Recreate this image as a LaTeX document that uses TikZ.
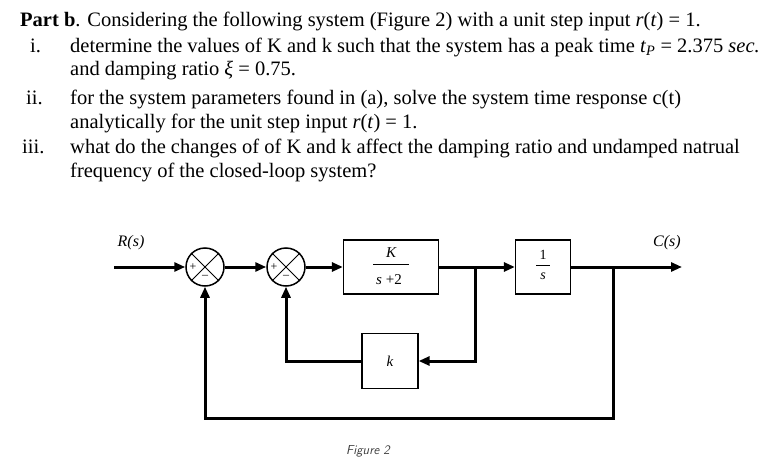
\documentclass[tikz,border=0pt]{standalone}
\usepackage{fontspec}
\setmainfont{Liberation Serif}
\usetikzlibrary{arrows.meta}
\begin{document}
\begin{tikzpicture}[x=1pt,y=-1pt,
  txt/.style={anchor=base west,inner sep=0,font=\fontsize{20.5}{22}\selectfont},
  blk/.style={draw,line width=1.3pt,inner sep=0},
  sig/.style={line width=3pt},
  arr/.style={sig,-{Triangle[length=11pt,width=9pt]}},
  sumc/.style={circle,draw,line width=1.5pt,minimum size=38pt,inner sep=0},
  dlab/.style={font=\fontsize{16}{16}\selectfont\itshape}]
\useasboundingbox (0,0) rectangle (774,471);
% text
\node[txt] (l1) at (20,27) {\textbf{Part b}. Considering the following system (Figure 2) with a unit step input \textit{r}(\textit{t}) = 1.};
\node[txt] (n1) at (30,52) {i.};
\node[txt] (l2) at (70,52) {determine the values of K and k such that the system has a peak time \textit{t}\textsubscript{\textit{P}} = 2.375 \textit{sec.}};
\node[txt] (l3) at (70,75) {and damping ratio \textit{ξ} = 0.75.};
\node[txt] (n2) at (26,104) {ii.};
\node[txt] (l4) at (70,104) {for the system parameters found in (a), solve the system time response c(t)};
\node[txt] (l5) at (70,128) {analytically for the unit step input \textit{r}(\textit{t}) = 1.};
\node[txt] (n3) at (22,153) {iii.};
\node[txt] (l6) at (70,153) {what do the changes of of K and k affect the damping ratio and undamped natrual};
\node[txt] (l7) at (70,177) {frequency of the closed-loop system?};
% diagram
\coordinate (in) at (114,267);
\node[sumc] (s1) at (205,267) {};
\node[sumc] (s2) at (286,267) {};
\foreach \s in {s1,s2}{
  \draw[line width=1pt] (\s.north west) -- (\s.south east) (\s.north east) -- (\s.south west);
  \node[font=\fontsize{12}{12}\selectfont] at ([xshift=-12pt]\s.center) {+};
  \node[font=\fontsize{12}{12}\selectfont] at ([yshift=-10pt]\s.center) {–};
}
\node[blk,minimum width=95pt,minimum height=54pt] (G) at (391,267) {};
\node[font=\fontsize{15}{15}\selectfont\itshape] at (391,253) {K};
\draw[line width=0.8pt] (373,264) -- (409,264);
\node[font=\fontsize{15}{15}\selectfont] at (389,280) {\textit{s} +2};
\node[blk,minimum width=55pt,minimum height=54pt] (I) at (543,267) {};
\node[font=\fontsize{14}{14}\selectfont] at (543,255) {1};
\draw[line width=0.8pt] (536,265) -- (550,265);
\node[font=\fontsize{14}{14}\selectfont\itshape] at (543,276) {s};
\node[blk,minimum width=56pt,minimum height=55pt] (Kb) at (390,361) {};
\node[font=\fontsize{15}{15}\selectfont\itshape] at (Kb) {k};
\coordinate (b1) at (475,267);
\coordinate (b2) at (613,267);
\coordinate (out) at (682,267);
\draw[arr] (in) -- (s1.west);
\draw[arr] (s1.east) -- (s2.west);
\draw[arr] (s2.east) -- (G.west);
\draw[arr] (G.east) -- (I.west);
\draw[arr] (I.east) -- (out);
\draw[arr] (b1) |- (Kb.east);
\draw[arr] (Kb.west) -| (s2.south);
\draw[arr] (b2) |- (205,418) -- (s1.south);
\node[dlab] at (131,243) {R(s)};
\node[dlab] at (667,243) {C(s)};
\node[font=\fontsize{13}{13}\selectfont\sffamily\itshape,text=black!75] at (368,451) {Figure 2};
\end{tikzpicture}
\end{document}
